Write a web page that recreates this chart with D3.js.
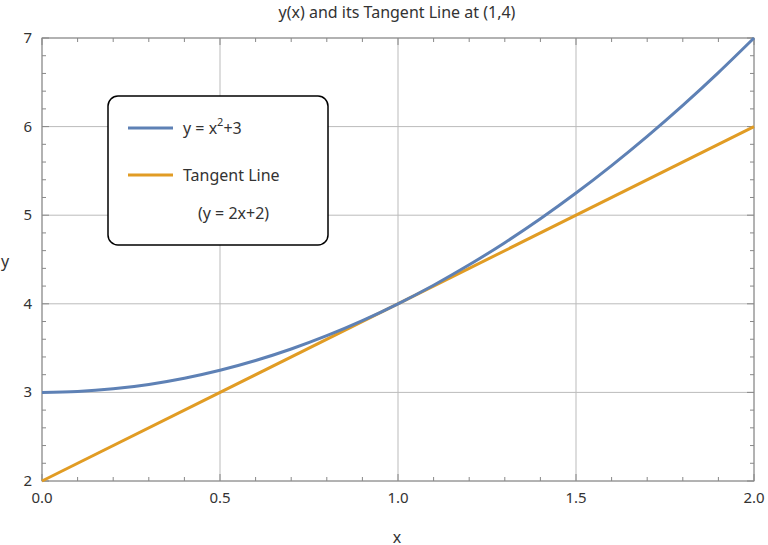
<!DOCTYPE html>
<html>
<head>
<meta charset="utf-8">
<script src="https://d3js.org/d3.v7.min.js"></script>
<style>
  body { margin: 0; background: #fff; }
  text { font-family: "Noto Sans", sans-serif; fill: #333; }
</style>
</head>
<body>
<svg id="chart" width="768" height="545"></svg>
<script>
// curve y = x^2 + 3
var curveX = [0, 0.1, 0.2, 0.3, 0.4, 0.5, 0.6, 0.7, 0.8, 0.9, 1.0, 1.1, 1.2, 1.3, 1.4, 1.5, 1.6, 1.7, 1.8, 1.9, 2.0];
var curveY = [3, 3.01, 3.04, 3.09, 3.16, 3.25, 3.36, 3.49, 3.64, 3.81, 4, 4.21, 4.44, 4.69, 4.96, 5.25, 5.56, 5.89, 6.24, 6.61, 7];
// tangent line y = 2x + 2
var tangentX = [0, 2];
var tangentY = [2, 6];
var xTicks = [0, 0.5, 1.0, 1.5, 2.0];
var yTicks = [2, 3, 4, 5, 6, 7];

var svg = d3.select('#chart');
var pLeft = 42, pRight = 754, pTop = 38, pBottom = 481;
var x = d3.scaleLinear().domain([0, 2]).range([pLeft, pRight]);
var y = d3.scaleLinear().domain([2, 7]).range([pBottom, pTop]);

// grid
svg.append('g').selectAll('line').data(xTicks).enter().append('line')
    .attr('x1', d => x(d)).attr('x2', d => x(d)).attr('y1', pTop).attr('y2', pBottom)
    .attr('stroke', '#bbb').attr('stroke-width', 1);
svg.append('g').selectAll('line').data(yTicks).enter().append('line')
    .attr('y1', d => y(d)).attr('y2', d => y(d)).attr('x1', pLeft).attr('x2', pRight)
    .attr('stroke', '#bbb').attr('stroke-width', 1);

// frame ticks (inward), major and minor
var minorX = d3.range(0, 2.0001, 0.1);
var minorY = d3.range(2, 7.0001, 0.2);
function isMajor(v, step) { return Math.abs(v / step - Math.round(v / step)) < 1e-6; }
var tk = svg.append('g').attr('stroke', '#888').attr('stroke-width', 1);
minorX.forEach(function (v) {
    var len = isMajor(v, 0.5) ? 7 : 4;
    tk.append('line').attr('x1', x(v)).attr('x2', x(v)).attr('y1', pBottom).attr('y2', pBottom - len);
    tk.append('line').attr('x1', x(v)).attr('x2', x(v)).attr('y1', pTop).attr('y2', pTop + len);
});
minorY.forEach(function (v) {
    var len = isMajor(v - 2, 1) ? 7 : 4;
    tk.append('line').attr('y1', y(v)).attr('y2', y(v)).attr('x1', pLeft).attr('x2', pLeft + len);
    tk.append('line').attr('y1', y(v)).attr('y2', y(v)).attr('x1', pRight).attr('x2', pRight - len);
});

// frame
svg.append('rect').attr('x', pLeft).attr('y', pTop).attr('width', pRight - pLeft).attr('height', pBottom - pTop)
    .attr('fill', 'none').attr('stroke', '#888').attr('stroke-width', 1);

// tick labels
svg.append('g').selectAll('text').data(xTicks).enter().append('text')
    .attr('x', d => x(d)).attr('y', pBottom + 22).attr('text-anchor', 'middle')
    .attr('font-size', 15).text(d => d.toFixed(1));
svg.append('g').selectAll('text').data(yTicks).enter().append('text')
    .attr('x', pLeft - 10).attr('y', d => y(d) + 5).attr('text-anchor', 'end')
    .attr('font-size', 15).text(d => d);

// lines
var line = d3.line().x(d => x(d[0])).y(d => y(d[1])).curve(d3.curveCatmullRom);
svg.append('path').datum(tangentX.map((v, i) => [v, tangentY[i]]))
    .attr('d', line).attr('fill', 'none').attr('stroke', '#E19C24').attr('stroke-width', 3);
svg.append('path').datum(curveX.map((v, i) => [v, curveY[i]]))
    .attr('d', line).attr('fill', 'none').attr('stroke', '#5E81B5').attr('stroke-width', 3);

// titles
svg.append('text').attr('x', 397).attr('y', 18).attr('text-anchor', 'middle').attr('font-size', 16)
    .text('y(x) and its Tangent Line at (1,4)');
svg.append('text').attr('x', 397).attr('y', 543).attr('text-anchor', 'middle').attr('font-size', 16).text('x');
svg.append('text').attr('x', 5).attr('y', 267).attr('text-anchor', 'middle').attr('font-size', 16).text('y');

// legend
var lg = svg.append('g');
lg.append('rect').attr('x', 108).attr('y', 96).attr('width', 220).attr('height', 149).attr('rx', 10)
    .attr('fill', '#fff').attr('stroke', '#000').attr('stroke-width', 1.5);
lg.append('line').attr('x1', 128).attr('x2', 173).attr('y1', 128).attr('y2', 128)
    .attr('stroke', '#5E81B5').attr('stroke-width', 3);
lg.append('line').attr('x1', 128).attr('x2', 173).attr('y1', 175).attr('y2', 175)
    .attr('stroke', '#E19C24').attr('stroke-width', 3);
var t1 = lg.append('text').attr('x', 183).attr('y', 134).attr('font-size', 16);
t1.append('tspan').text('y = x');
t1.append('tspan').attr('dy', -8).attr('font-size', 11).text('2');
t1.append('tspan').attr('dy', 8).text('+3');
lg.append('text').attr('x', 183).attr('y', 181).attr('font-size', 16).text('Tangent Line');
lg.append('text').attr('x', 198).attr('y', 219).attr('font-size', 16).text('(y = 2x+2)');
</script>
</body>
</html>
